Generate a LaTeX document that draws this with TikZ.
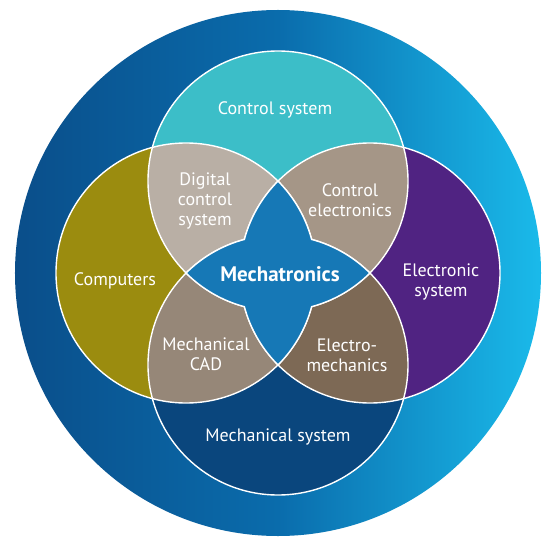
\documentclass[tikz,border=0pt]{standalone}
\usepackage{fontspec}
\setmainfont{PT Sans}
\definecolor{bgleft}{RGB}{10,78,138}
\definecolor{bgmid}{RGB}{10,108,172}
\definecolor{bgright}{RGB}{26,186,234}
\definecolor{ccyan}{RGB}{60,190,200}
\definecolor{colive}{RGB}{155,140,15}
\definecolor{cpurple}{RGB}{80,35,130}
\definecolor{cblue}{RGB}{10,70,125}
\definecolor{ctl}{RGB}{185,175,165}
\definecolor{ctr}{RGB}{165,150,135}
\definecolor{cbl}{RGB}{150,135,120}
\definecolor{cbr}{RGB}{125,105,85}
\definecolor{ccenter}{RGB}{22,120,182}
\tikzset{
  lbl/.style={text=white, align=center, font=\fontsize{18}{20}\selectfont, inner sep=0pt},
  lblbold/.style={lbl, font=\bfseries\fontsize{21}{22}\selectfont},
  rim/.style={draw=white, line width=1.4pt}
}
\begin{document}
\begin{tikzpicture}[x=1pt,y=1pt]
\useasboundingbox (-278,-273) rectangle (278,273);
% outer circle
\shade[left color=bgleft, right color=bgright, middle color=bgmid] (0,0) circle[radius=263];
% solo circles
\fill[ccyan]   (0,92) circle[radius=130];
\fill[colive]  (-92,0) circle[radius=130];
\fill[cpurple] (92,0) circle[radius=130];
\fill[cblue]   (0,-92) circle[radius=130];
% pairwise overlaps
\begin{scope}\clip (0,92) circle[radius=130]; \fill[ctl] (-92,0) circle[radius=130]; \end{scope}
\begin{scope}\clip (0,92) circle[radius=130]; \fill[ctr] (92,0) circle[radius=130]; \end{scope}
\begin{scope}\clip (0,-92) circle[radius=130]; \fill[cbl] (-92,0) circle[radius=130]; \end{scope}
\begin{scope}\clip (0,-92) circle[radius=130]; \fill[cbr] (92,0) circle[radius=130]; \end{scope}
% white rims
\draw[rim] (0,92) circle[radius=130];
\draw[rim] (-92,0) circle[radius=130];
\draw[rim] (92,0) circle[radius=130];
\draw[rim] (0,-92) circle[radius=130];
% centre star
\filldraw[fill=ccenter, draw=white, line width=1.4pt, line join=miter]
  (0,91.85) arc[start angle=135.03, end angle=165.03, radius=130]
  arc[start angle=104.97, end angle=134.97, radius=130]
  arc[start angle=225.03, end angle=255.03, radius=130]
  arc[start angle=194.97, end angle=224.97, radius=130]
  arc[start angle=315.03, end angle=345.03, radius=130]
  arc[start angle=284.97, end angle=314.97, radius=130]
  arc[start angle=45.03, end angle=75.03, radius=130]
  arc[start angle=14.97, end angle=44.97, radius=130] -- cycle;
% labels
\node[lbl] (ctrl) at (-3,163) {Control system};
\node[lbl] (dig) at (-73,72) {Digital\\control\\system};
\node[lbl] (ce) at (72,73) {Control\\electronics};
\node[lblbold] (mech) at (2,-1) {Mechatronics};
\node[lbl] (comp) at (-163,-8) {Computers};
\node[lbl] (es) at (163,-9) {Electronic\\system};
\node[lbl] (mcad) at (-72,-81) {Mechanical\\CAD};
\node[lbl] (em) at (69,-82) {Electro-\\mechanics};
\node[lbl] (ms) at (0,-164) {Mechanical system};
\end{tikzpicture}
\end{document}
